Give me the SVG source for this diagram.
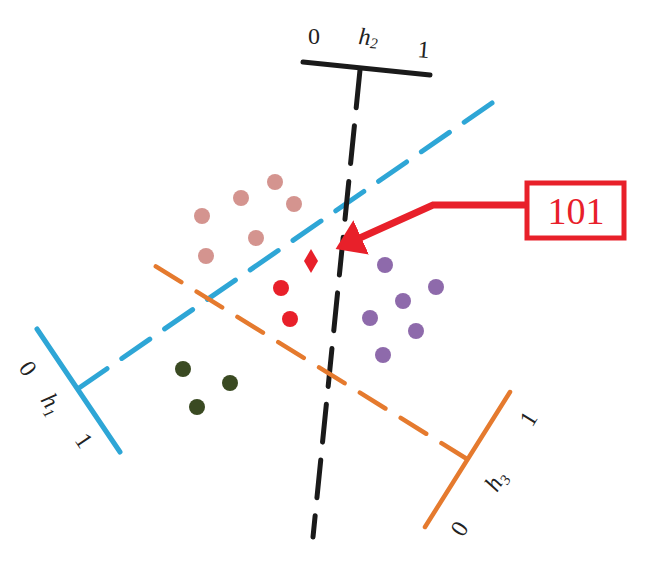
<svg xmlns="http://www.w3.org/2000/svg" width="650" height="565" viewBox="0 0 650 565">
<style>
.t{font-family:"Liberation Serif",serif;font-size:24px;fill:#222}
.i{font-style:italic}
.b{stroke:#2ea6d6;stroke-width:5;fill:none;stroke-linecap:round}
.k{stroke:#1a1a1a;stroke-width:5;fill:none;stroke-linecap:round}
.o{stroke:#e57a2e;stroke-width:4.5;fill:none;stroke-linecap:round}
.pk{fill:#d4948f}.rd{fill:#e8202a}.pu{fill:#8e6aab}.gr{fill:#3a4a22}
</style>
<defs><marker id="ah" markerWidth="8" markerHeight="8" refX="3" refY="4" orient="auto" markerUnits="strokeWidth"><path d="M0,1.3 L4,4 L0,6.7 Z" fill="#e8202a"/></marker></defs>
<g id="connectors">
<path class="b" d="M37,329 L120,452"/>
<path class="k" d="M303,62 L430,75"/>
<path class="o" d="M510,392 L425,527"/>
<path class="b" d="M79,388 L492,103" stroke-dasharray="34,18"/>
<path class="k" d="M360,70 L313,537" stroke-dasharray="38,18"/>
<path class="o" d="M467,459 L152,264" stroke-dasharray="30,18"/>
<path d="M527,205 L433,205 L342,246" stroke="#e8202a" stroke-width="7" fill="none" marker-end="url(#ah)"/>
</g>
<g id="axis-h1"><text class="t" transform="translate(18,368) rotate(56)">0</text><text class="t i" transform="translate(40,400) rotate(56)">h<tspan font-size="15" dy="5">1</tspan></text><text class="t" transform="translate(74,440) rotate(56)">1</text></g>
<g id="axis-h2"><text class="t" x="308" y="44">0</text><text class="t i" transform="translate(358,44) rotate(5)">h<tspan font-size="15" dy="3">2</tspan></text><text class="t" transform="translate(417,57) rotate(5)">1</text></g>
<g id="axis-h3"><text class="t" transform="translate(532,428) rotate(-58)">1</text><text class="t i" transform="translate(497,493) rotate(-58)">h<tspan font-size="15" dy="5">3</tspan></text><text class="t" transform="translate(463,538) rotate(-58)">0</text></g>
<g id="points">
<circle class="pk" cx="202" cy="216" r="8"/><circle class="pk" cx="241" cy="198" r="8"/><circle class="pk" cx="275" cy="182" r="8"/><circle class="pk" cx="294" cy="204" r="8"/><circle class="pk" cx="256" cy="238" r="8"/><circle class="pk" cx="206" cy="256" r="8"/>
<circle class="rd" cx="281" cy="288" r="8"/><circle class="rd" cx="290" cy="319" r="8"/>
<path class="rd" d="M311,249 L318,261 L311,273 L304,261 Z"/>
<circle class="pu" cx="385" cy="265" r="8"/><circle class="pu" cx="436" cy="287" r="8"/><circle class="pu" cx="403" cy="301" r="8"/><circle class="pu" cx="370" cy="318" r="8"/><circle class="pu" cx="416" cy="331" r="8"/><circle class="pu" cx="383" cy="355" r="8"/>
<circle class="gr" cx="183" cy="369" r="8"/><circle class="gr" cx="230" cy="383" r="8"/><circle class="gr" cx="197" cy="407" r="8"/>
</g>
<g id="label-101"><rect x="527" y="183" width="97" height="55" fill="#fff" stroke="#e8202a" stroke-width="5"/><text x="576" y="224" text-anchor="middle" font-family="Liberation Serif,serif" font-size="38" fill="#e8202a">101</text></g>
</svg>
